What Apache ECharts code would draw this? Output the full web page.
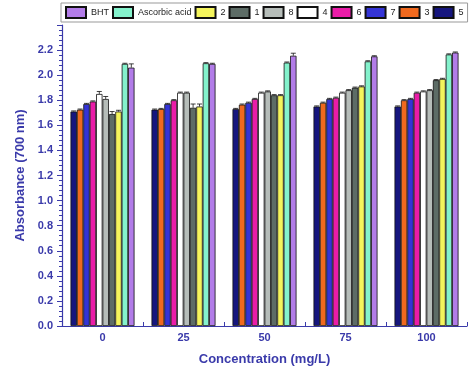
<!DOCTYPE html>
<html><head><meta charset="utf-8">
<script src="https://cdn.jsdelivr.net/npm/echarts@6/dist/echarts.min.js"></script>
<style>html,body{margin:0;padding:0;background:#fff}#c{width:474px;height:371px}</style>
</head><body><div id="c"></div>
<script>
const categories = ['0', '25', '50', '75', '100'];
// bar order left to right within each group
const seriesNames = ['5', '3', '7', '6', '4', '8', '1', '2', 'Ascorbic acid', 'BHT'];
const legendOrder = ['BHT', 'Ascorbic acid', '2', '1', '8', '4', '6', '7', '3', '5'];
const s5  = [1.71, 1.725, 1.73, 1.75, 1.75];
const s3  = [1.725, 1.73, 1.765, 1.78, 1.80];
const s7  = [1.77, 1.77, 1.78, 1.81, 1.81];
const s6  = [1.79, 1.80, 1.81, 1.82, 1.86];
const s4  = [1.85, 1.86, 1.86, 1.86, 1.87];
const s8  = [1.81, 1.86, 1.87, 1.88, 1.88];
const s1  = [1.69, 1.74, 1.84, 1.90, 1.96];
const s2  = [1.71, 1.75, 1.84, 1.91, 1.97];
const sAA = [2.09, 2.095, 2.10, 2.11, 2.165];
const sBHT = [2.06, 2.09, 2.155, 2.15, 2.18];
const e5  = [0.005, 0.005, 0.005, 0.005, 0.005];
const e3  = [0.005, 0.005, 0.005, 0.005, 0.005];
const e7  = [0.005, 0.005, 0.005, 0.005, 0.005];
const e6  = [0.005, 0.005, 0.005, 0.005, 0.005];
const e4  = [0.02, 0.005, 0.005, 0.005, 0.005];
const e8  = [0.02, 0.005, 0.005, 0.005, 0.005];
const e1  = [0.02, 0.03, 0.005, 0.005, 0.005];
const e2  = [0.01, 0.02, 0.005, 0.005, 0.005];
const eAA = [0.005, 0.005, 0.005, 0.005, 0.005];
const eBHT = [0.03, 0.005, 0.02, 0.005, 0.005];
const yTicks = { min: 0, max: 2.4, interval: 0.2, lastLabel: 2.2 };

const values = [s5, s3, s7, s6, s4, s8, s1, s2, sAA, sBHT];
const errors = [e5, e3, e7, e6, e4, e8, e1, e2, eAA, eBHT];
const colors = ['#16167e', '#f0691e', '#3434d6', '#ea1ca8', '#ffffff', '#b6bdb9', '#5d6c66', '#f4f45c', '#84f2cc', '#b27ce8'];
const axisColor = '#3a3aaa';
const font = 'Liberation Sans, Arial, sans-serif';
const BW = 6.4;

const chart = echarts.init(document.getElementById('c'), null, { renderer: 'canvas' });
const barSeries = seriesNames.map((n, i) => ({
  name: n, type: 'bar', data: values[i], barWidth: BW, barGap: '0%',
  itemStyle: { color: colors[i], borderColor: '#111', borderWidth: 0.8 },
  emphasis: { disabled: true }
}));
const errData = [];
values.forEach((arr, si) => arr.forEach((v, ci) => errData.push([ci, si, v, errors[si][ci]])));
const errSeries = {
  type: 'custom', silent: true, data: errData, z: 5,
  encode: { x: 0, y: 2 },
  renderItem: function (params, api) {
    const ci = api.value(0), si = api.value(1), v = api.value(2), e = api.value(3);
    const off = (si - (seriesNames.length - 1) / 2) * BW;
    const top = api.coord([ci, v + e]);
    const base = api.coord([ci, v]);
    const x = base[0] + off;
    return { type: 'group', children: [
      { type: 'line', shape: { x1: x, y1: base[1], x2: x, y2: top[1] }, style: { stroke: '#111', lineWidth: 0.8 } },
      { type: 'line', shape: { x1: x - 2.5, y1: top[1], x2: x + 2.5, y2: top[1] }, style: { stroke: '#111', lineWidth: 0.8 } }
    ]};
  }
};

chart.setOption({
  animation: false,
  backgroundColor: '#fff',
  textStyle: { fontFamily: font },
  legend: {
    data: legendOrder, left: 61, top: 3, right: 2, orient: 'horizontal',
    itemWidth: 20, itemHeight: 11, itemGap: 3, padding: [3, 4],
    borderColor: '#999', borderWidth: 1, icon: 'rect',
    textStyle: { fontSize: 9, color: '#222', fontFamily: font }
  },
  grid: { left: 62, right: 7, top: 25, bottom: 43, containLabel: false },
  xAxis: {
    type: 'category', data: categories, boundaryGap: true,
    name: 'Concentration (mg/L)', nameLocation: 'middle', nameGap: 27,
    nameTextStyle: { color: axisColor, fontWeight: 'bold', fontSize: 13, fontFamily: font },
    axisLine: { lineStyle: { color: axisColor, width: 1.2 } },
    axisTick: { show: true, inside: true, length: 4, alignWithLabel: false, lineStyle: { color: axisColor } },
    axisLabel: { color: axisColor, fontWeight: 'bold', fontSize: 11, margin: 6, fontFamily: font },
    splitLine: { show: false }
  },
  yAxis: {
    type: 'value', min: yTicks.min, max: yTicks.max, interval: yTicks.interval,
    name: 'Absorbance (700 nm)', nameLocation: 'middle', nameGap: 34, nameRotate: 90,
    nameTextStyle: { color: axisColor, fontWeight: 'bold', fontSize: 13, fontFamily: font },
    axisLine: { show: true, lineStyle: { color: axisColor, width: 1.2 } },
    axisTick: { show: true, inside: false, length: 5, lineStyle: { color: axisColor } },
    minorTick: { show: true, splitNumber: 5, length: 3, lineStyle: { color: axisColor } },
    axisLabel: { color: axisColor, fontWeight: 'bold', fontSize: 11, margin: 9, fontFamily: font,
      formatter: v => (v > yTicks.lastLabel + 0.01 ? '' : v.toFixed(1)) },
    splitLine: { show: false }
  },
  series: barSeries.concat([errSeries])
});
</script></body></html>
